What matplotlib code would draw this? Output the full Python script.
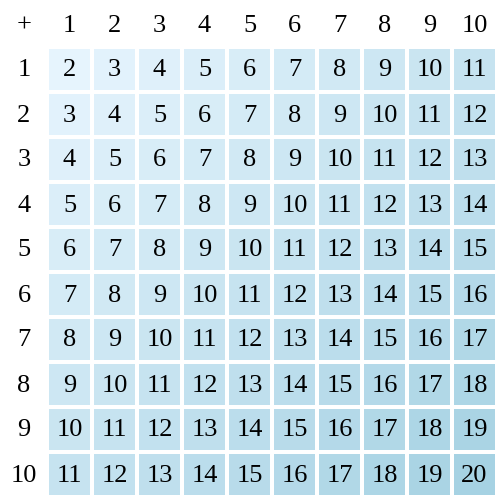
import matplotlib as mpl
import matplotlib.pyplot as plt
from matplotlib.patches import Rectangle
from matplotlib.colors import LinearSegmentedColormap

mpl.rcParams["font.family"] = ["Liberation Serif", "DejaVu Serif"]

row_vals = [1, 2, 3, 4, 5, 6, 7, 8, 9, 10]
col_vals = [1, 2, 3, 4, 5, 6, 7, 8, 9, 10]
corner_label = "+"

cmap = LinearSegmentedColormap.from_list("blues", ["#e6f4fd", "#a6d2e3"])


def main():
    fig = plt.figure(figsize=(5, 5), dpi=100, facecolor="white")
    ax = fig.add_axes([0, 0, 1, 1])
    ax.set_axis_off()
    ax.set_xlim(0, 500)
    ax.set_ylim(500, 0)

    pitch, size, x0 = 45, 41, 49
    lo = row_vals[0] + col_vals[0]
    hi = row_vals[-1] + col_vals[-1]
    fs = 19

    ax.text(24, 26, corner_label, ha="center", va="center", fontsize=fs, color="black")
    for j, c in enumerate(col_vals):
        ax.text(x0 + pitch * j + size / 2, 26, str(c), ha="center", va="center", fontsize=fs, color="black")
    for i, r in enumerate(row_vals):
        y = x0 + pitch * i
        ax.text(24, y + size / 2 + 1, str(r), ha="center", va="center", fontsize=fs, color="black")
        for j, c in enumerate(col_vals):
            x = x0 + pitch * j
            s = r + c
            ax.add_patch(Rectangle((x, y), size, size, facecolor=cmap((s - lo) / (hi - lo)), edgecolor="none"))
            ax.text(x + size / 2, y + size / 2 + 1, str(s), ha="center", va="center", fontsize=fs, color="black")

    fig.savefig("out.png", dpi=100)
    plt.close(fig)


if __name__ == "__main__":
    main()
